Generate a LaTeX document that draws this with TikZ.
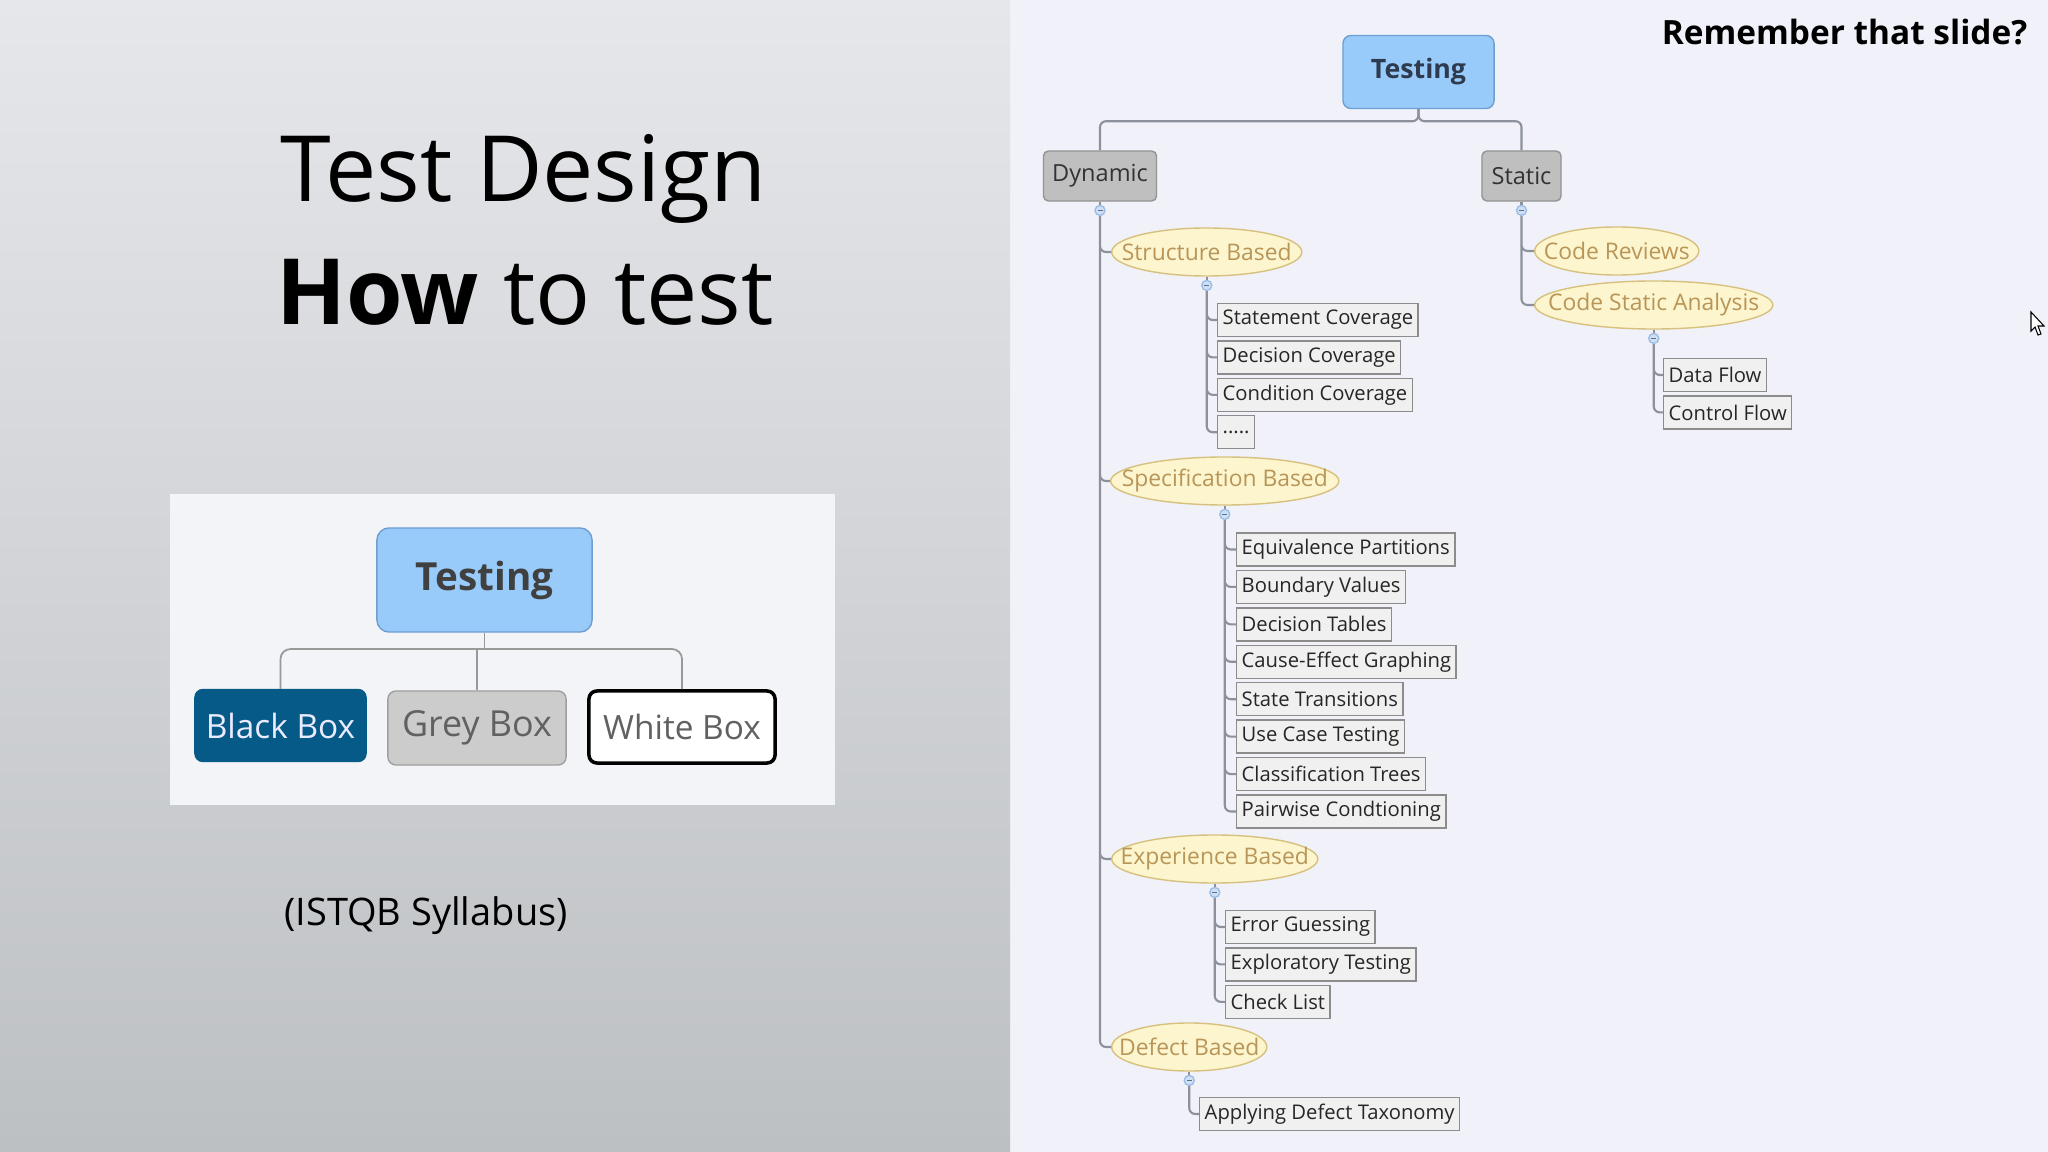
\documentclass[tikz,border=0pt]{standalone}
\usepackage{fontspec}
\setmainfont{Open Sans}
\usetikzlibrary{positioning, shapes.geometric}
\definecolor{slideback}{HTML}{F0F1F9}
\definecolor{paneltop}{HTML}{E6E7EA}
\definecolor{panelbot}{HTML}{BDC0C3}
\definecolor{insetbg}{HTML}{F3F4F8}
\definecolor{rootblue}{HTML}{99CBFA}
\definecolor{rootedge}{HTML}{6E9ED2}
\definecolor{rootink}{HTML}{2E3A4E}
\definecolor{boxnavy}{HTML}{065A87}
\definecolor{topicfill}{HTML}{FDF5CD}
\definecolor{topicedge}{HTML}{D8C17E}
\definecolor{topictext}{HTML}{B89558}
\definecolor{leaffill}{HTML}{F0F0F0}
\definecolor{leafedge}{HTML}{8C8C8C}
\definecolor{linkgrey}{HTML}{8C919B}
\definecolor{foldfill}{HTML}{CFE0F6}
\definecolor{foldedge}{HTML}{9DBDE6}

\begin{document}
\begin{tikzpicture}[
    x=0.01cm, y=-0.01cm,
    link/.style={draw=linkgrey, line width=0.6pt, rounded corners=0.06cm},
    biglink/.style={draw=gray!80, line width=0.5pt, rounded corners=0.1cm},
    root/.style={rectangle, rounded corners=0.08cm, draw=rootedge, fill=rootblue,
                 text=rootink, font=\fontsize{7.6}{9}\selectfont\bfseries,
                 minimum width=1.51cm, minimum height=0.73cm},
    mainbranch/.style={rectangle, rounded corners=0.05cm, draw=gray!85, fill=gray!50,
                 text=black!80, font=\fontsize{6.7}{8}\selectfont,
                 minimum height=0.5cm, inner xsep=0pt},
    topic/.style={ellipse, draw=topicedge, fill=topicfill, text=topictext,
                 font=\fontsize{6.5}{8}\selectfont, minimum height=0.48cm,
                 inner xsep=-12pt, inner ysep=-4pt, anchor=west},
    leaf/.style={rectangle, draw=leafedge, fill=leaffill, text=black!85,
                 font=\fontsize{5.75}{7}\selectfont, inner xsep=0.05cm,
                 inner ysep=0.5pt, minimum height=0.33cm},
    under/.style={below=0.03cm of #1.south west, anchor=north west},
    fold/.style={circle, draw=foldedge, fill=foldfill, line width=0.4pt,
                 minimum size=0.1cm, inner sep=0pt, below=0.03cm of #1,
                 path picture={\draw[foldedge!60!black, line width=0.3pt]
                   ([xshift=-0.025cm]path picture bounding box.center) --
                   ([xshift=0.025cm]path picture bounding box.center);}},
    bigbox/.style={rectangle, rounded corners=0.08cm, font=\fontsize{9.5}{11}\selectfont,
                 minimum height=0.72cm, inner xsep=0pt}
  ]
  \useasboundingbox (0,0) rectangle (2048,1152);
  % backgrounds
  \fill[slideback] (0,0) rectangle (2048,1152);
  \shade[top color=paneltop, bottom color=panelbot] (0,0) rectangle (1010,1152);

  % left slide
  \node[anchor=base, font=\fontsize{26}{30}\selectfont] (title) at (524,202) {Test Design};
  \node[anchor=base, font=\fontsize{26}{30}\selectfont] (subtitle) at (525,325)
    {\textbf{How} to test};
  \fill[insetbg] (170,494) rectangle (835,805);
  \node[rectangle, rounded corners=0.12cm, draw=rootedge, fill=rootblue, text=black!75,
        font=\fontsize{11}{13}\selectfont\bfseries, minimum width=2.15cm,
        minimum height=1.04cm] (ltest) at (484.5,580) {Testing};
  \node[bigbox, fill=boxnavy, draw=boxnavy, text=white!92!blue,
        minimum width=1.71cm] (blackbox) at (280.5,725.5) {Black Box};
  \node[bigbox, fill=gray!40, draw=gray!75, text=black!62, minimum width=1.78cm,
        minimum height=0.74cm, font=\fontsize{10.2}{12}\selectfont] (greybox) at (477,728) {Grey Box};
  \node[bigbox, fill=white, draw=black, line width=1pt, text=black!62,
        minimum width=1.86cm] (whitebox) at (682,727) {White Box};
  \coordinate (lbar) at (484.5,649);
  \draw[biglink] (blackbox.north) |- (lbar) -| (whitebox.north);
  \draw[biglink] (ltest.south) -- (lbar);
  \draw[biglink] (greybox.north) -- (greybox.north |- lbar);
  \node[anchor=base west, font=\fontsize{10.8}{13}\selectfont] (source) at (272,925)
    {(ISTQB Syllabus)};

  % right slide: mind map
  \node[anchor=base east, inner sep=0pt, font=\fontsize{9.5}{11}\selectfont\bfseries]
    (remind) at (2028,45) {Remember that slide?};
  \node[root] (mmroot) at (1418.5,72) {Testing};
  \node[mainbranch, minimum width=1.13cm] (dyn) at (1100,176) {Dynamic};
  \node[mainbranch, minimum width=0.79cm] (stat) at (1521.5,176) {Static};
  \draw[link] (mmroot.south) -- ++(0,12) -| (dyn.north);
  \draw[link] (mmroot.south) -- ++(0,12) -| (stat.north);
  \node[fold=dyn] (dynfold) {};
  \node[fold=stat] (statfold) {};
  \draw[link] (dyn) -- (dynfold) (stat) -- (statfold);

  \node[topic, minimum width=1.90cm] (strb) at (1111,252) {Structure Based};
  \node[topic, minimum width=2.28cm] (specb) at (1110,481) {Specification Based};
  \node[topic, minimum width=2.06cm] (expb) at (1111,859) {Experience Based};
  \node[topic, minimum width=1.55cm] (defb) at (1111,1047) {Defect Based};
  \node[topic, minimum width=1.64cm] (crev) at (1534,251) {Code Reviews};
  \node[topic, minimum width=2.38cm] (csa) at (1534,305) {Code Static Analysis};
  \draw[link] (dynfold) |- (strb) (dynfold) |- (specb) (dynfold) |- (expb)
              (dynfold) |- (defb);
  \draw[link] (statfold) |- (crev) (statfold) |- (csa);
  \node[fold=strb] (strfold) {};
  \node[fold=specb] (specfold) {};
  \node[fold=expb] (expfold) {};
  \node[fold=defb] (deffold) {};
  \node[fold=csa] (csafold) {};
  \draw[link] (strb) -- (strfold) (specb) -- (specfold) (expb) -- (expfold)
              (defb) -- (deffold) (csa) -- (csafold);

  % structure based
  \node[leaf, anchor=west] (stmtcov) at (1217,320) {Statement Coverage};
  \node[leaf, under=stmtcov] (deccov) {Decision Coverage};
  \node[leaf, under=deccov] (condcov) {Condition Coverage};
  \node[leaf, under=condcov] (morecov) {.....};
  \draw[link] (strfold) |- (stmtcov) (strfold) |- (deccov) (strfold) |- (condcov)
              (strfold) |- (morecov);

  % specification based
  \node[leaf, anchor=west] (equiv) at (1236,549.5) {Equivalence Partitions};
  \node[leaf, under=equiv] (bound) {Boundary Values};
  \node[leaf, under=bound] (dectab) {Decision Tables};
  \node[leaf, under=dectab] (causeff) {Cause-Effect Graphing};
  \node[leaf, under=causeff] (statetr) {State Transitions};
  \node[leaf, under=statetr] (usecase) {Use Case Testing};
  \node[leaf, under=usecase] (classtree) {Classification Trees};
  \node[leaf, under=classtree] (pairwise) {Pairwise Condtioning};
  \draw[link] (specfold) |- (equiv) (specfold) |- (bound) (specfold) |- (dectab)
              (specfold) |- (causeff) (specfold) |- (statetr) (specfold) |- (usecase)
              (specfold) |- (classtree) (specfold) |- (pairwise);

  % experience and defect based
  \node[leaf, anchor=west] (errguess) at (1225,927) {Error Guessing};
  \node[leaf, under=errguess] (explore) {Exploratory Testing};
  \node[leaf, under=explore] (checklist) {Check List};
  \draw[link] (expfold) |- (errguess) (expfold) |- (explore) (expfold) |- (checklist);
  \node[leaf, anchor=west] (taxonomy) at (1199,1114) {Applying Defect Taxonomy};
  \draw[link] (deffold) |- (taxonomy);

  % static analysis
  \node[leaf, anchor=west] (dataflow) at (1663,375) {Data Flow};
  \node[leaf, under=dataflow] (ctrlflow) {Control Flow};
  \draw[link] (csafold) |- (dataflow) (csafold) |- (ctrlflow);

  % mouse pointer
  \filldraw[fill=white, draw=black, line width=0.3pt] (2031,312) -- (2031,331) -- (2035,327)
    -- (2038,335) -- (2041,334) -- (2038,326) -- (2044,326) -- cycle;
\end{tikzpicture}
\end{document}
